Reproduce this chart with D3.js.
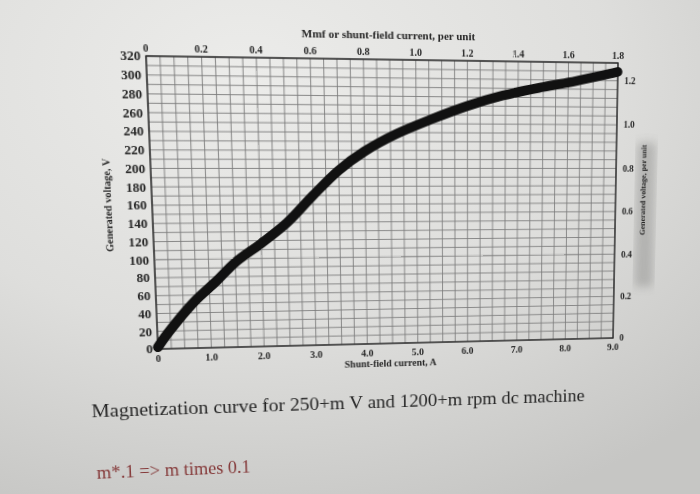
<!DOCTYPE html>
<html>
<head>
<meta charset="utf-8">
<script src="https://cdn.jsdelivr.net/npm/d3@7"></script>
<style>
  html, body { margin: 0; padding: 0; width: 700px; height: 494px; overflow: hidden; }
  #bg { position: absolute; left: 0; top: 0; }
  #wrap { position: absolute; left: 0; top: 0; width: 700px; height: 494px; transform-origin: 0 0; }
  text { font-family: "Liberation Serif", "Times New Roman", serif; fill: #262626; }
</style>
</head>
<body>
<svg id="bg" width="700" height="494"></svg>
<div id="wrap"><svg id="chart" width="700" height="494"></svg></div>
<script>
// ---- data ----
const shuntCurrentA     = [0, 0.2, 0.7, 1.15, 1.5, 2.0, 2.5, 3.0, 3.5, 4.0, 4.6, 5.3, 6.0, 6.7, 7.5, 8.15, 8.85, 9.0];
const generatedVoltageV = [2, 18, 52, 76, 96, 117, 140, 170, 198, 219, 238, 255, 270, 282, 292, 299, 308, 310];
const bottomTicks = [0, 1, 2, 3, 4, 5, 6, 7, 8, 9];
const bottomTickLabels = ["0", "1.0", "2.0", "3.0", "4.0", "5.0", "6.0", "7.0", "8.0", "9.0"];
const leftTicks = [0, 20, 40, 60, 80, 100, 120, 140, 160, 180, 200, 220, 240, 260, 280, 300, 320];
const topTicksPu = [0, 0.2, 0.4, 0.6, 0.8, 1.0, 1.2, 1.4, 1.6, 1.8];
const topTickLabels = ["0", "0.2", "0.4", "0.6", "0.8", "1.0", "1.2", "1.4", "1.6", "1.8"];
const rightTicksPu = [0, 0.2, 0.4, 0.6, 0.8, 1.0, 1.2];
const rightTickLabels = ["0", "0.2", "0.4", "0.6", "0.8", "1.0", "1.2"];
const baseVoltage = 250;   // 1.0 per unit voltage
const baseCurrent = 5;     // 1.0 per unit field current
const topTitle = "Mmf or shunt-field current, per unit";
const bottomTitle = "Shunt-field current, A";
const leftTitle = "Generated voltage, V";
const rightTitle = "Generated voltage, per unit";
const caption = "Magnetization curve for 250+m V and 1200+m rpm dc machine";
const note = "m*.1 => m times 0.1";

// ---- background (photographed paper/screen) ----
const bg = d3.select("#bg");
const defs = bg.append("defs");
const rg = defs.append("radialGradient").attr("id", "paper").attr("cx", "35%").attr("cy", "15%").attr("r", "95%");
rg.append("stop").attr("offset", "0%").attr("stop-color", "#ececea");
rg.append("stop").attr("offset", "55%").attr("stop-color", "#dededc");
rg.append("stop").attr("offset", "100%").attr("stop-color", "#c6c6c4");
bg.append("rect").attr("width", 700).attr("height", 494).attr("fill", "url(#paper)");

// ---- chart in flat coordinates ----
const x0 = 152, x1 = 616, y0 = 60, y1 = 344;
const svg = d3.select("#chart");
const cdefs = svg.append("defs");
cdefs.append("filter").attr("id", "blur").append("feGaussianBlur").attr("stdDeviation", 5);

const x = d3.scaleLinear().domain([0, 9]).range([x0, x1]);
const y = d3.scaleLinear().domain([0, 320]).range([y1, y0]);
const xPu = d3.scaleLinear().domain([0, 9 / baseCurrent]).range([x0, x1]);
const yPu = d3.scaleLinear().domain([0, 320 / baseVoltage]).range([y1, y0]);

// smudge behind right title (photo artefact)
svg.append("rect").attr("x", 638).attr("y", 140).attr("width", 20).attr("height", 150)
  .attr("fill", "#8a8a88").attr("opacity", 0.45).attr("filter", "url(#blur)");

// grid
const g = svg.append("g");
g.selectAll("line.v").data(d3.range(0, 9.0001, 0.25)).join("line")
  .attr("x1", d => x(d)).attr("x2", d => x(d)).attr("y1", y0).attr("y2", y1)
  .attr("stroke", "#7a7a7a").attr("stroke-width", 0.85);
g.selectAll("line.h").data(d3.range(0, 320.001, 10)).join("line")
  .attr("y1", d => y(d)).attr("y2", d => y(d)).attr("x1", x0).attr("x2", x1)
  .attr("stroke", "#7a7a7a").attr("stroke-width", 0.85);
// frame
g.append("rect").attr("x", x0).attr("y", y0).attr("width", x1 - x0).attr("height", y1 - y0)
  .attr("fill", "none").attr("stroke", "#2a2a2a").attr("stroke-width", 1.4);

// curve
const line = d3.line().x(d => x(d[0])).y(d => y(d[1])).curve(d3.curveCatmullRom.alpha(0.5));
svg.append("path").datum(shuntCurrentA.map((a, i) => [a, generatedVoltageV[i]]))
  .attr("d", line).attr("fill", "none").attr("stroke", "#111").attr("stroke-width", 9.5)
  .attr("stroke-linecap", "round").attr("stroke-linejoin", "round");

// axes (labels only, as in the reference)
const tickStyle = s => s.attr("font-weight", "bold");
svg.append("g").selectAll("text").data(leftTicks).join("text")
  .attr("x", x0 - 5).attr("y", d => y(d)).attr("dy", "0.35em").attr("text-anchor", "end")
  .attr("font-size", 12.5).text(d => d).call(tickStyle);
svg.append("g").selectAll("text").data(bottomTicks).join("text")
  .attr("x", d => x(d)).attr("y", y1 + 13).attr("text-anchor", "middle")
  .attr("font-size", 10).text((d, i) => bottomTickLabels[i]).call(tickStyle);
svg.append("g").selectAll("text").data(topTicksPu).join("text")
  .attr("x", d => xPu(d)).attr("y", y0 - 4).attr("text-anchor", "middle")
  .attr("font-size", 10).text((d, i) => topTickLabels[i]).call(tickStyle);
svg.append("g").selectAll("text").data(rightTicksPu).join("text")
  .attr("x", x1 + 7).attr("y", d => yPu(d)).attr("dy", "0.35em")
  .attr("text-anchor", "start").attr("font-size", 9.5).text((d, i) => rightTickLabels[i]).call(tickStyle);

// titles
svg.append("text").attr("x", 384).attr("y", 40).attr("text-anchor", "middle")
  .attr("font-size", 11).attr("font-weight", "bold").text(topTitle);
svg.append("text").attr("x", 382).attr("y", 368).attr("text-anchor", "middle")
  .attr("font-size", 10).attr("font-weight", "bold").text(bottomTitle);
svg.append("text").attr("transform", "translate(114,202) rotate(-90)").attr("text-anchor", "middle")
  .attr("font-size", 10).attr("font-weight", "bold").text(leftTitle);
svg.append("text").attr("transform", "translate(648,189) rotate(-90)").attr("text-anchor", "middle")
  .attr("font-size", 8).attr("font-weight", "bold").text(rightTitle);

// caption and note
svg.append("text").attr("x", 86).attr("y", 411).attr("font-size", 19.5).attr("fill", "#222").text(caption);
svg.append("text").attr("x", 88).attr("y", 474).attr("font-size", 18).style("fill", "#843838").text(note);

// ---- perspective of the photograph: map flat plot corners to observed corners ----
function solve(A, b) {
  const n = b.length;
  const M = A.map((r, i) => r.concat([b[i]]));
  for (let c = 0; c < n; c++) {
    let p = c;
    for (let r = c + 1; r < n; r++) if (Math.abs(M[r][c]) > Math.abs(M[p][c])) p = r;
    [M[c], M[p]] = [M[p], M[c]];
    for (let r = 0; r < n; r++) {
      if (r === c) continue;
      const f = M[r][c] / M[c][c];
      for (let k = c; k <= n; k++) M[r][k] -= f * M[c][k];
    }
  }
  return M.map((r, i) => r[n] / r[i]);
}
function homography(src, dst) {
  const A = [], b = [];
  for (let i = 0; i < 4; i++) {
    const [sx, sy] = src[i], [u, v] = dst[i];
    A.push([sx, sy, 1, 0, 0, 0, -sx * u, -sy * u]); b.push(u);
    A.push([0, 0, 0, sx, sy, 1, -sx * v, -sy * v]); b.push(v);
  }
  return solve(A, b);
}
const h = homography(
  [[x0, y0], [x1, y0], [x0, y1], [x1, y1]],
  [[146, 56], [618, 63], [158, 349], [613, 338]]
);
d3.select("#wrap").style("transform",
  `matrix3d(${h[0]},${h[3]},0,${h[6]},${h[1]},${h[4]},0,${h[7]},0,0,1,0,${h[2]},${h[5]},0,1)`);
</script>
</body>
</html>
